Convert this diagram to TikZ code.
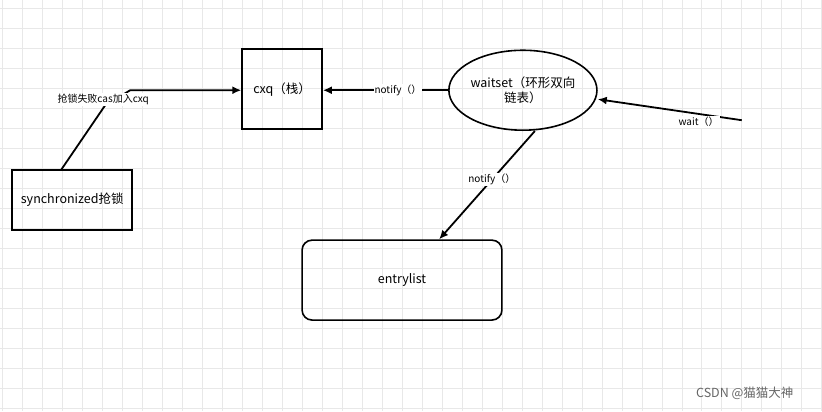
\documentclass[tikz,border=0pt]{standalone}
\usepackage{fontspec}
\setmainfont{Noto Sans CJK SC}
\usetikzlibrary{shapes.geometric,arrows.meta}
\begin{document}
\begin{tikzpicture}[x=1pt,y=-1pt,
  box/.style={draw,line width=1.6pt,minimum width=#1},
  lab/.style={fill=white,inner sep=1pt,font=\fontsize{10}{12}\selectfont},
  conn/.style={line width=1.8pt,-{Latex[length=9pt,width=8pt]}},
  every node/.style={font=\fontsize{12.5}{15}\selectfont}]
\fill[white] (0,0) rectangle (822,411);
\foreach \i in {0,20,...,820} \draw[gray!18,line width=0.6pt] (\i+2,0) -- (\i+2,411);
\foreach \j in {0,20,...,400} \draw[gray!18,line width=0.6pt] (0,\j+8) -- (822,\j+8);
\useasboundingbox (0,0) rectangle (822,411);
\node[box=120pt,minimum height=60pt] (s) at (72,200) {synchronized抢锁};
\node[box=80pt,minimum height=80pt] (c) at (282,89) {cxq（栈）};
\node[draw,ellipse,line width=1.6pt,minimum width=120pt,minimum height=80pt,align=center,inner sep=0pt] (w) at (523,90) {waitset（环形双向\\链表）};
\node[draw,line width=1.6pt,rounded corners=10pt,minimum width=200pt,minimum height=80pt] (e) at (402,280) {entrylist};
\coordinate (k) at (105,105);
\coordinate (k2) at (130,90);
\coordinate (r) at (742,120);
\coordinate (sa) at ([xshift=50pt]s.north west);
\coordinate (wb) at ([xshift=12pt]w.south);
\coordinate (ea) at ([xshift=138pt]e.north west);
\draw[conn] (sa) -- (k) -- (k2) -- (c.west |- k2);
\node[lab] (l1) at (103,99) {抢锁失败cas加入cxq};
\draw[conn] (w.west) -- (c.east |- w.west) node[lab,pos=0.4] {notify（）};
\draw[conn] (r) -- (w.east |- 0,99) node[lab,pos=0.3,yshift=-8pt] {wait（）};
\draw[conn] (wb) -- (ea) node[lab,pos=0.45] {notify（）};
\node[gray!80!black] (cs) at (745,393) {CSDN @猫猫大神};
\end{tikzpicture}
\end{document}
